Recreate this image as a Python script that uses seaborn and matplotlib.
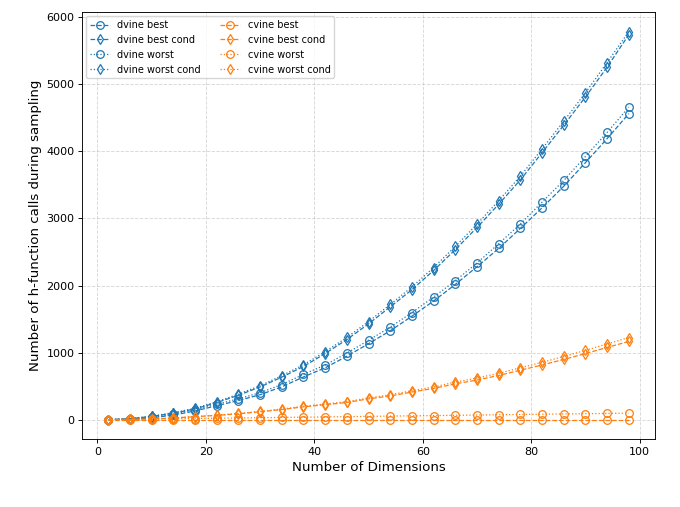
import matplotlib
matplotlib.use("Agg")
import matplotlib.pyplot as plt
import seaborn as sns
import pandas as pd

dims = [2, 6, 10, 14, 18, 22, 26, 30, 34, 38, 42, 46, 50, 54, 58, 62, 66, 70, 74, 78, 82, 86, 90, 94, 98]

dvine_best = [0, 6, 27, 68, 130, 208, 285, 372, 490, 637, 773, 946, 1133, 1325, 1543, 1769, 2016, 2280, 2553, 2851, 3159, 3480, 3832, 4190, 4562]
dvine_best_cond = [0, 14, 48, 96, 160, 255, 364, 488, 634, 793, 986, 1195, 1428, 1682, 1938, 2224, 2535, 2865, 3212, 3575, 3980, 4390, 4810, 5256, 5740]
dvine_worst = [1, 10, 33, 82, 148, 230, 311, 402, 524, 675, 815, 992, 1183, 1379, 1597, 1828, 2072, 2335, 2623, 2916, 3244, 3566, 3924, 4282, 4660]
dvine_worst_cond = [0, 16, 52, 104, 170, 268, 380, 506, 656, 818, 1014, 1226, 1462, 1718, 1978, 2268, 2582, 2915, 3264, 3630, 4036, 4450, 4874, 5324, 5786]

cvine_best = [0] * 25
cvine_best_cond = [0, 3, 10, 24, 44, 64, 88, 117, 151, 191, 223, 256, 310, 353, 412, 466, 534, 591, 659, 737, 815, 898, 985, 1077, 1166]
cvine_worst = [1, 5, 9, 13, 17, 21, 25, 29, 33, 37, 41, 45, 49, 53, 57, 61, 65, 69, 73, 77, 81, 85, 89, 93, 97]
cvine_worst_cond = [0, 3, 10, 26, 46, 66, 92, 123, 159, 199, 233, 268, 324, 371, 432, 488, 560, 621, 691, 773, 855, 942, 1033, 1129, 1224]

series = [
    ("dvine best", dvine_best, "#1f77b4", "--", "o"),
    ("dvine best cond", dvine_best_cond, "#1f77b4", "--", "d"),
    ("dvine worst", dvine_worst, "#1f77b4", ":", "o"),
    ("dvine worst cond", dvine_worst_cond, "#1f77b4", ":", "d"),
    ("cvine best", cvine_best, "#ff7f0e", "--", "o"),
    ("cvine best cond", cvine_best_cond, "#ff7f0e", "--", "d"),
    ("cvine worst", cvine_worst, "#ff7f0e", ":", "o"),
    ("cvine worst cond", cvine_worst_cond, "#ff7f0e", ":", "d"),
]

fig, ax = plt.subplots(figsize=(6.8, 5.07), dpi=100)
fig.subplots_adjust(left=0.121, right=0.963, top=0.976, bottom=0.134)

for name, vals, col, ls, mk in series:
    df = pd.DataFrame({"dim": dims, "calls": vals})
    sns.lineplot(data=df, x="dim", y="calls", ax=ax, color=col, linestyle=ls,
                 marker=mk, markersize=5.5, markerfacecolor="none",
                 markeredgecolor=col, markeredgewidth=0.9, linewidth=0.9,
                 label=name)

ax.grid(True, linestyle="--", linewidth=0.65, alpha=0.5)
for s in ax.spines.values():
    s.set_linewidth(0.65)
ax.set_xlabel("Number of Dimensions", fontsize=9.6, labelpad=3.2)
ax.set_ylabel("Number of h-function calls during sampling", fontsize=9.6, labelpad=3.2)
ax.tick_params(labelsize=8, length=2.8, pad=2.8, width=0.65)
ax.legend(ncol=2, fontsize=7, loc="upper left", handlelength=2.0,
          borderpad=0.4, labelspacing=0.5, borderaxespad=0.4)

fig.savefig("out.png", dpi=100)
